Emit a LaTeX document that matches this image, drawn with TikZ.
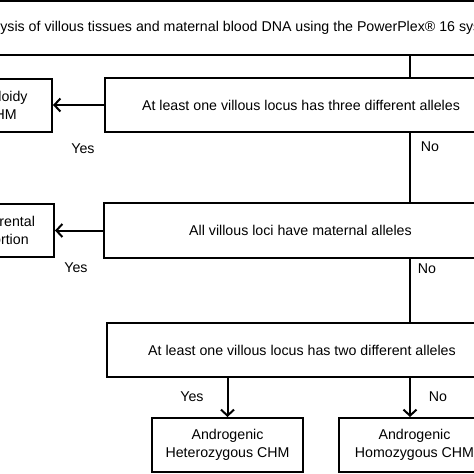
\documentclass[tikz,border=0pt]{standalone}
\usepackage{fontspec}
\setmainfont{Liberation Sans}
\usetikzlibrary{arrows.meta}
\begin{document}
\begin{tikzpicture}[x=1pt,y=-1pt,
  every node/.style={font=\fontsize{14.2}{18}\selectfont},
  box/.style={draw,line width=2pt,inner sep=0pt,align=center},
  lbl/.style={inner sep=0pt},
  conn/.style={line width=2pt},
  arr/.style={line width=2pt,-{Straight Barb[length=6pt,width=13pt,line width=2pt]}}]
\useasboundingbox (0,0) rectangle (474,474);
\clip (0,0) rectangle (474,474);
\coordinate (spine) at (410,0);
\node[box,minimum width=640pt,minimum height=54pt] (top) at (238,28)
  {Analysis of villous tissues and maternal blood DNA using the PowerPlex\textregistered{} 16 system};
\node[box,minimum width=392pt,minimum height=54pt] (b2) at (301,105)
  {At least one villous locus has three different alleles};
\node[box,minimum width=102pt,minimum height=53pt] (l1) at (1,105.5)
  {Triploidy\\PHM};
\node[box,minimum width=393pt,minimum height=55pt] (b3) at (300.5,230.5)
  {All villous loci have maternal alleles};
\node[box,minimum width=102pt,minimum height=53pt] (l2) at (3,230.5)
  {Biparental\\abortion};
\node[box,minimum width=390pt,minimum height=54pt] (b4) at (302,350)
  {At least one villous locus has two different alleles};
\node[box,minimum width=151pt,minimum height=54pt] (het) at (227.5,445)
  {Androgenic\\Heterozygous CHM};
\node[box,minimum width=151pt,minimum height=54pt] (hom) at (414.5,445)
  {Androgenic\\Homozygous CHM};
\draw[conn] (top.south -| spine) -- (b2.north -| spine);
\draw[arr] (b2.west) -- (b2.west -| l1.east);
\draw[conn] (b2.south -| spine) -- (b3.north -| spine);
\draw[arr] (b3.west) -- (b3.west -| l2.east);
\draw[conn] (b3.south -| spine) -- (b4.north -| spine);
\draw[arr] (b4.south -| het.north) -- (het.north);
\draw[arr] (b4.south -| spine) -- (hom.north -| spine);
\node[lbl] (y1) at (83,149) {Yes};
\node[lbl] (n1) at (430,147) {No};
\node[lbl] (y2) at (76,268) {Yes};
\node[lbl] (n2) at (427,269) {No};
\node[lbl] (y3) at (192,397) {Yes};
\node[lbl] (n3) at (438,397) {No};
\end{tikzpicture}
\end{document}
